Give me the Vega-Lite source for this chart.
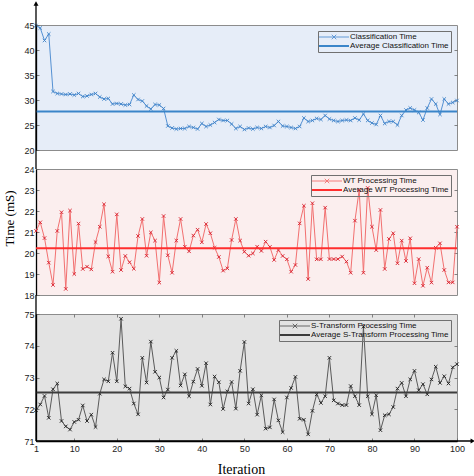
{
  "$schema": "https://vega.github.io/schema/vega-lite/v6.json",
  "background": "white",
  "padding": {"left": 2, "top": 0, "right": 0, "bottom": 0},
  "config": {
    "font": "Liberation Sans",
    "axis": {"labelFont": "Liberation Sans", "labelFontSize": 9, "labelColor": "#222", "grid": false, "tickColor": "#666", "tickWidth": 0.8},
    "legend": {"labelFont": "Liberation Sans", "labelFontSize": 8, "labelColor": "#111", "labelLimit": 300}
  },
  "datasets": {
    "classification": [
      {"iter":1,"time":44.9},{"iter":2,"time":44.4},{"iter":3,"time":41.9},{"iter":4,"time":43.2},{"iter":5,"time":31.7},
      {"iter":6,"time":31.3},{"iter":7,"time":31.2},{"iter":8,"time":31.1},{"iter":9,"time":31.2},{"iter":10,"time":31.0},
      {"iter":11,"time":31.3},{"iter":12,"time":30.7},{"iter":13,"time":30.8},{"iter":14,"time":31.1},{"iter":15,"time":31.3},
      {"iter":16,"time":30.6},{"iter":17,"time":30.2},{"iter":18,"time":30.3},{"iter":19,"time":29.2},{"iter":20,"time":29.3},
      {"iter":21,"time":29.2},{"iter":22,"time":29.0},{"iter":23,"time":29.1},{"iter":24,"time":31.0},{"iter":25,"time":30.1},
      {"iter":26,"time":29.8},{"iter":27,"time":28.8},{"iter":28,"time":28.2},{"iter":29,"time":29.1},{"iter":30,"time":29.0},
      {"iter":31,"time":28.3},{"iter":32,"time":24.8},{"iter":33,"time":24.4},{"iter":34,"time":24.2},{"iter":35,"time":24.3},
      {"iter":36,"time":24.3},{"iter":37,"time":24.7},{"iter":38,"time":24.5},{"iter":39,"time":24.2},{"iter":40,"time":25.3},
      {"iter":41,"time":24.7},{"iter":42,"time":25.0},{"iter":43,"time":25.5},{"iter":44,"time":26.1},{"iter":45,"time":25.9},
      {"iter":46,"time":25.9},{"iter":47,"time":25.2},{"iter":48,"time":24.3},{"iter":49,"time":24.7},{"iter":50,"time":24.1},
      {"iter":51,"time":24.4},{"iter":52,"time":24.2},{"iter":53,"time":24.5},{"iter":54,"time":24.3},{"iter":55,"time":24.7},
      {"iter":56,"time":24.5},{"iter":57,"time":24.9},{"iter":58,"time":25.7},{"iter":59,"time":24.8},{"iter":60,"time":24.7},
      {"iter":61,"time":24.5},{"iter":62,"time":24.3},{"iter":63,"time":24.7},{"iter":64,"time":26.4},{"iter":65,"time":25.7},
      {"iter":66,"time":25.9},{"iter":67,"time":26.3},{"iter":68,"time":26.1},{"iter":69,"time":26.9},{"iter":70,"time":26.2},
      {"iter":71,"time":25.9},{"iter":72,"time":25.7},{"iter":73,"time":25.9},{"iter":74,"time":26.0},{"iter":75,"time":25.9},
      {"iter":76,"time":26.4},{"iter":77,"time":26.0},{"iter":78,"time":27.2},{"iter":79,"time":25.9},{"iter":80,"time":25.4},
      {"iter":81,"time":25.1},{"iter":82,"time":26.9},{"iter":83,"time":25.3},{"iter":84,"time":25.7},{"iter":85,"time":25.7},
      {"iter":86,"time":25.0},{"iter":87,"time":26.9},{"iter":88,"time":28.0},{"iter":89,"time":28.4},{"iter":90,"time":28.0},
      {"iter":91,"time":27.5},{"iter":92,"time":26.0},{"iter":93,"time":28.4},{"iter":94,"time":30.2},{"iter":95,"time":29.2},
      {"iter":96,"time":27.1},{"iter":97,"time":30.2},{"iter":98,"time":29.2},{"iter":99,"time":29.5},{"iter":100,"time":29.9}
    ],
    "wt": [
      {"iter":1,"time":21.05},{"iter":2,"time":21.46},{"iter":3,"time":20.71},{"iter":4,"time":19.54},{"iter":5,"time":18.48},
      {"iter":6,"time":21.05},{"iter":7,"time":21.94},{"iter":8,"time":18.29},{"iter":9,"time":22.02},{"iter":10,"time":19.0},
      {"iter":11,"time":21.4},{"iter":12,"time":19.24},{"iter":13,"time":19.35},{"iter":14,"time":19.22},{"iter":15,"time":20.52},
      {"iter":16,"time":21.25},{"iter":17,"time":22.32},{"iter":18,"time":19.84},{"iter":19,"time":19.11},{"iter":20,"time":21.84},
      {"iter":21,"time":19.19},{"iter":22,"time":19.86},{"iter":23,"time":19.56},{"iter":24,"time":19.25},{"iter":25,"time":20.81},
      {"iter":26,"time":21.62},{"iter":27,"time":19.87},{"iter":28,"time":20.98},{"iter":29,"time":20.59},{"iter":30,"time":18.59},
      {"iter":31,"time":21.76},{"iter":32,"time":19.89},{"iter":33,"time":19.06},{"iter":34,"time":20.59},{"iter":35,"time":21.62},
      {"iter":36,"time":20.3},{"iter":37,"time":20.08},{"iter":38,"time":20.83},{"iter":39,"time":21.11},{"iter":40,"time":20.51},
      {"iter":41,"time":21.38},{"iter":42,"time":20.94},{"iter":43,"time":20.25},{"iter":44,"time":19.81},{"iter":45,"time":19.16},
      {"iter":46,"time":19.27},{"iter":47,"time":20.62},{"iter":48,"time":21.62},{"iter":49,"time":20.59},{"iter":50,"time":20.06},
      {"iter":51,"time":19.87},{"iter":52,"time":19.98},{"iter":53,"time":20.3},{"iter":54,"time":20.1},{"iter":55,"time":20.54},
      {"iter":56,"time":20.29},{"iter":57,"time":19.67},{"iter":58,"time":20.14},{"iter":59,"time":19.86},{"iter":60,"time":19.7},
      {"iter":61,"time":19.11},{"iter":62,"time":19.43},{"iter":63,"time":21.41},{"iter":64,"time":22.25},{"iter":65,"time":18.76},
      {"iter":66,"time":22.37},{"iter":67,"time":19.7},{"iter":68,"time":19.7},{"iter":69,"time":22.16},{"iter":70,"time":19.71},
      {"iter":71,"time":19.71},{"iter":72,"time":19.71},{"iter":73,"time":19.83},{"iter":74,"time":19.59},{"iter":75,"time":19.06},
      {"iter":76,"time":21.54},{"iter":77,"time":23.0},{"iter":78,"time":19.06},{"iter":79,"time":23.1},{"iter":80,"time":21.25},
      {"iter":81,"time":20.14},{"iter":82,"time":22.05},{"iter":83,"time":19.24},{"iter":84,"time":20.67},{"iter":85,"time":20.94},
      {"iter":86,"time":19.51},{"iter":87,"time":20.59},{"iter":88,"time":19.62},{"iter":89,"time":20.7},{"iter":90,"time":18.56},
      {"iter":91,"time":19.71},{"iter":92,"time":18.44},{"iter":93,"time":19.3},{"iter":94,"time":18.59},{"iter":95,"time":20.25},
      {"iter":96,"time":20.46},{"iter":97,"time":19.19},{"iter":98,"time":18.6},{"iter":99,"time":18.6},{"iter":100,"time":21.25}
    ],
    "st": [
      {"iter":1,"time":71.97},{"iter":2,"time":72.15},{"iter":3,"time":72.42},{"iter":4,"time":71.73},{"iter":5,"time":72.63},
      {"iter":6,"time":72.81},{"iter":7,"time":71.63},{"iter":8,"time":71.46},{"iter":9,"time":71.36},{"iter":10,"time":71.6},
      {"iter":11,"time":71.67},{"iter":12,"time":72.12},{"iter":13,"time":71.63},{"iter":14,"time":71.83},{"iter":15,"time":71.44},
      {"iter":16,"time":72.49},{"iter":17,"time":72.94},{"iter":18,"time":72.88},{"iter":19,"time":73.78},{"iter":20,"time":72.88},
      {"iter":21,"time":74.85},{"iter":22,"time":72.72},{"iter":23,"time":72.65},{"iter":24,"time":72.18},{"iter":25,"time":71.84},
      {"iter":26,"time":73.62},{"iter":27,"time":72.84},{"iter":28,"time":74.13},{"iter":29,"time":73.18},{"iter":30,"time":73.0},
      {"iter":31,"time":72.37},{"iter":32,"time":72.62},{"iter":33,"time":73.62},{"iter":34,"time":73.84},{"iter":35,"time":72.75},
      {"iter":36,"time":73.1},{"iter":37,"time":72.41},{"iter":38,"time":72.87},{"iter":39,"time":73.27},{"iter":40,"time":72.74},
      {"iter":41,"time":73.45},{"iter":42,"time":72.15},{"iter":43,"time":73.03},{"iter":44,"time":72.85},{"iter":45,"time":72.01},
      {"iter":46,"time":72.56},{"iter":47,"time":72.86},{"iter":48,"time":72.02},{"iter":49,"time":73.21},{"iter":50,"time":74.12},
      {"iter":51,"time":72.18},{"iter":52,"time":72.63},{"iter":53,"time":71.83},{"iter":54,"time":72.44},{"iter":55,"time":71.39},
      {"iter":56,"time":71.43},{"iter":57,"time":72.31},{"iter":58,"time":71.65},{"iter":59,"time":71.28},{"iter":60,"time":72.37},
      {"iter":61,"time":72.67},{"iter":62,"time":73.02},{"iter":63,"time":71.7},{"iter":64,"time":71.67},{"iter":65,"time":71.21},
      {"iter":66,"time":71.95},{"iter":67,"time":72.47},{"iter":68,"time":72.2},{"iter":69,"time":72.41},{"iter":70,"time":73.62},
      {"iter":71,"time":72.28},{"iter":72,"time":72.18},{"iter":73,"time":72.13},{"iter":74,"time":72.13},{"iter":75,"time":72.73},
      {"iter":76,"time":72.41},{"iter":77,"time":72.13},{"iter":78,"time":74.6},{"iter":79,"time":72.41},{"iter":80,"time":71.84},
      {"iter":81,"time":72.44},{"iter":82,"time":71.34},{"iter":83,"time":71.81},{"iter":84,"time":71.84},{"iter":85,"time":72.07},
      {"iter":86,"time":72.65},{"iter":87,"time":72.83},{"iter":88,"time":72.41},{"iter":89,"time":72.94},{"iter":90,"time":73.21},
      {"iter":91,"time":72.6},{"iter":92,"time":72.79},{"iter":93,"time":72.47},{"iter":94,"time":72.94},{"iter":95,"time":73.34},
      {"iter":96,"time":72.83},{"iter":97,"time":73.04},{"iter":98,"time":72.81},{"iter":99,"time":73.32},{"iter":100,"time":73.42}
    ],
    "averages": [
      {"series":"Classification","avg":27.7},
      {"series":"WT","avg":20.23},
      {"series":"ST","avg":72.53}
    ]
  },
  "vconcat": [
    {
      "width": 421,
      "height": 125,
      "view": {"fill": "#e6edf8", "stroke": "#8c8c8c", "strokeWidth": 1},
      "resolve": {"axis": {"x": "independent", "y": "independent"}},
      "layer": [
        {
          "data": {"name": "classification"},
          "mark": {"type": "line", "strokeWidth": 1},
          "encoding": {
            "x": {"field": "iter", "type": "quantitative", "scale": {"domain": [1, 100], "nice": false, "zero": false}, "axis": null},
            "y": {"field": "time", "type": "quantitative", "scale": {"domain": [20, 45], "nice": false, "zero": false},
              "axis": {"orient": "left", "values": [20, 25, 30, 35, 40, 45], "title": null, "tickSize": -3, "labelPadding": 5, "domainColor": "#000", "domainWidth": 1.3}},
            "color": {"datum": "Classification Time", "type": "nominal",
              "scale": {"domain": ["Classification Time", "Average Classification Time"], "range": ["#5591d3", "#3a85c9"]},
              "legend": {"title": null, "orient": "top-right", "offset": 6, "padding": 2, "rowPadding": 0, "strokeColor": "#707070",
                "symbolSize": 100, "labelOffset": 22,
                "encode": {"symbols": {"update": {
                  "shape": {"signal": "datum.value == 'Classification Time' ? 'M-1,0L5,0M1.55,-0.45L2.45,0.45M1.55,0.45L2.45,-0.45' : 'M-1,0L5,0'"},
                  "strokeWidth": {"signal": "datum.value == 'Classification Time' ? 0.9 : 2"}}}}}}
          }
        },
        {
          "data": {"name": "classification"},
          "mark": {"type": "point", "shape": "M-1,-1L1,1M-1,1L1,-1", "filled": false, "size": 12, "strokeWidth": 0.9, "color": "#3f83c8", "opacity": 1},
          "encoding": {
            "x": {"field": "iter", "type": "quantitative", "axis": null},
            "y": {"field": "time", "type": "quantitative", "axis": null}
          }
        },
        {
          "data": {"name": "averages"},
          "transform": [{"filter": "datum.series == 'Classification'"}],
          "mark": {"type": "rule", "strokeWidth": 2},
          "encoding": {
            "y": {"field": "avg", "type": "quantitative",
              "axis": {"orient": "right", "values": [25, 30, 35, 40], "labels": false, "domain": false, "tickSize": -3, "title": null}},
            "color": {"datum": "Average Classification Time", "type": "nominal"}
          }
        },
        {
          "data": {"values": [{}]},
          "mark": {"type": "rule", "color": "#000", "strokeWidth": 1.3},
          "encoding": {
            "x": {"datum": 1, "type": "quantitative", "axis": null},
            "y": {"datum": 49.0, "type": "quantitative", "axis": null},
            "y2": {"datum": 16.2}
          }
        },
        {
          "data": {"values": [{}]},
          "mark": {"type": "point", "shape": "triangle-up", "filled": true, "color": "#000", "size": 25, "opacity": 1},
          "encoding": {
            "x": {"datum": 1, "type": "quantitative", "axis": null},
            "y": {"datum": 49.3, "type": "quantitative", "axis": null}
          }
        }
      ]
    },
    {
      "width": 421,
      "height": 126,
      "view": {"fill": "#fbeeee", "stroke": "#8c8c8c", "strokeWidth": 1},
      "resolve": {"axis": {"x": "independent", "y": "independent"}},
      "layer": [
        {
          "data": {"name": "wt"},
          "mark": {"type": "line", "strokeWidth": 1},
          "encoding": {
            "x": {"field": "iter", "type": "quantitative", "scale": {"domain": [1, 100], "nice": false, "zero": false}, "axis": null},
            "y": {"field": "time", "type": "quantitative", "scale": {"domain": [18, 24], "nice": false, "zero": false},
              "axis": {"orient": "left", "values": [18, 19, 20, 21, 22, 23, 24], "title": "Time (mS)", "tickSize": -3, "labelPadding": 5, "domainColor": "#000", "domainWidth": 1.3,
                "titleFont": "Liberation Serif", "titleFontSize": 13, "titleFontWeight": "normal", "titleColor": "#000", "titleX": -20, "titleY": 49}},
            "color": {"datum": "WT Processing Time", "type": "nominal",
              "scale": {"domain": ["WT Processing Time", "Average WT Processing Time"], "range": ["#f27070", "#ff2e2e"]},
              "legend": {"title": null, "orient": "top-right", "offset": 6, "padding": 2, "rowPadding": 0, "strokeColor": "#707070",
                "symbolSize": 100, "labelOffset": 22,
                "encode": {"symbols": {"update": {
                  "shape": {"signal": "datum.value == 'WT Processing Time' ? 'M-1,0L5,0M1.55,-0.45L2.45,0.45M1.55,0.45L2.45,-0.45' : 'M-1,0L5,0'"},
                  "strokeWidth": {"signal": "datum.value == 'WT Processing Time' ? 0.9 : 2"}}}}}}
          }
        },
        {
          "data": {"name": "wt"},
          "mark": {"type": "point", "shape": "M-1,-1L1,1M-1,1L1,-1", "filled": false, "size": 12, "strokeWidth": 0.9, "color": "#d81f2c", "opacity": 1},
          "encoding": {
            "x": {"field": "iter", "type": "quantitative", "axis": null},
            "y": {"field": "time", "type": "quantitative", "axis": null}
          }
        },
        {
          "data": {"name": "averages"},
          "transform": [{"filter": "datum.series == 'WT'"}],
          "mark": {"type": "rule", "strokeWidth": 2},
          "encoding": {
            "y": {"field": "avg", "type": "quantitative",
              "axis": {"orient": "right", "values": [19, 20, 21, 22, 23], "labels": false, "domain": false, "tickSize": -3, "title": null}},
            "color": {"datum": "Average WT Processing Time", "type": "nominal"}
          }
        }
      ]
    },
    {
      "width": 421,
      "height": 127,
      "view": {"fill": "#e3e3e3", "stroke": "#8c8c8c", "strokeWidth": 1},
      "resolve": {"axis": {"x": "independent", "y": "independent"}},
      "layer": [
        {
          "data": {"name": "st"},
          "mark": {"type": "line", "strokeWidth": 1},
          "encoding": {
            "x": {"field": "iter", "type": "quantitative", "scale": {"domain": [1, 100], "nice": false, "zero": false},
              "axis": {"orient": "bottom", "values": [1, 10, 20, 30, 40, 50, 60, 70, 80, 90, 100], "labelFlush": false, "labelOverlap": false,
                "tickSize": -3, "labelPadding": 6, "domainColor": "#000", "domainWidth": 1.3,
                "title": "Iteration", "titleFont": "Liberation Serif", "titleFontSize": 14, "titleFontWeight": "normal", "titleColor": "#000", "titleX": 205, "titleY": 21.5}},
            "y": {"field": "time", "type": "quantitative", "scale": {"domain": [71, 75], "nice": false, "zero": false},
              "axis": {"orient": "left", "values": [71, 72, 73, 74, 75], "title": null, "tickSize": -3, "labelPadding": 5, "domainColor": "#000", "domainWidth": 1.3}},
            "color": {"datum": "S-Transform Processing Time", "type": "nominal",
              "scale": {"domain": ["S-Transform Processing Time", "Average S-Transform Processing Time"], "range": ["#5a5a5a", "#3d3d3d"]},
              "legend": {"title": null, "orient": "top-right", "offset": 6, "padding": 2, "rowPadding": 0, "strokeColor": "#707070",
                "symbolSize": 100, "labelOffset": 22,
                "encode": {"symbols": {"update": {
                  "shape": {"signal": "datum.value == 'S-Transform Processing Time' ? 'M-1,0L5,0M1.55,-0.45L2.45,0.45M1.55,0.45L2.45,-0.45' : 'M-1,0L5,0'"},
                  "strokeWidth": {"signal": "datum.value == 'S-Transform Processing Time' ? 0.9 : 2"}}}}}}
          }
        },
        {
          "data": {"name": "st"},
          "mark": {"type": "point", "shape": "M-1,-1L1,1M-1,1L1,-1", "filled": false, "size": 12, "strokeWidth": 0.9, "color": "#1e1e1e", "opacity": 1},
          "encoding": {
            "x": {"field": "iter", "type": "quantitative",
              "axis": {"orient": "top", "values": [10, 20, 30, 40, 50, 60, 70, 80, 90], "labels": false, "domain": false, "tickSize": -3, "title": null}},
            "y": {"field": "time", "type": "quantitative", "axis": null}
          }
        },
        {
          "data": {"name": "averages"},
          "transform": [{"filter": "datum.series == 'ST'"}],
          "mark": {"type": "rule", "strokeWidth": 2},
          "encoding": {
            "y": {"field": "avg", "type": "quantitative",
              "axis": {"orient": "right", "values": [72, 73, 74], "labels": false, "domain": false, "tickSize": -3, "title": null}},
            "color": {"datum": "Average S-Transform Processing Time", "type": "nominal"}
          }
        },
        {
          "data": {"values": [{}]},
          "mark": {"type": "rule", "color": "#000", "strokeWidth": 1.3},
          "encoding": {
            "x": {"datum": 1, "type": "quantitative", "axis": null},
            "y": {"datum": 75.6, "type": "quantitative", "axis": null},
            "y2": {"datum": 71}
          }
        },
        {
          "data": {"values": [{}]},
          "mark": {"type": "rule", "color": "#000", "strokeWidth": 1.3},
          "encoding": {
            "x": {"datum": 1, "type": "quantitative", "axis": null},
            "x2": {"datum": 103.3},
            "y": {"datum": 71, "type": "quantitative", "axis": null}
          }
        },
        {
          "data": {"values": [{}]},
          "mark": {"type": "point", "shape": "triangle-right", "filled": true, "color": "#000", "size": 25, "opacity": 1},
          "encoding": {
            "x": {"datum": 103.7, "type": "quantitative", "axis": null},
            "y": {"datum": 71, "type": "quantitative", "axis": null}
          }
        }
      ]
    }
  ],
  "spacing": 19,
  "bounds": "flush",
  "resolve": {"scale": {"color": "independent"}, "legend": {"color": "independent"}}
}
